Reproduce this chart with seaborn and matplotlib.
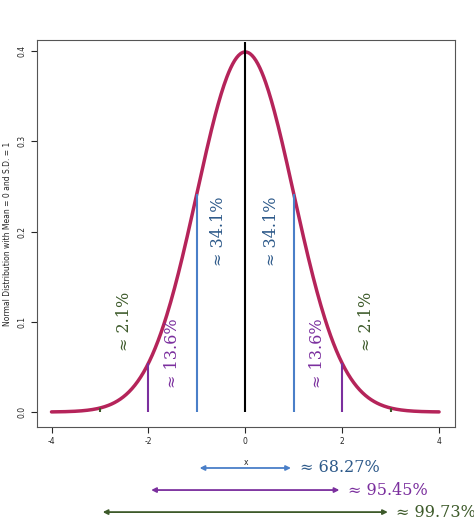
import numpy as np
import seaborn as sns
import matplotlib.pyplot as plt

sns.set_style("white")

# normal density, mean 0 and sd 1
x = np.linspace(-4, 4, 401)
density = np.exp(-x ** 2 / 2) / np.sqrt(2 * np.pi)

sd_marks = [1, 2, 3]
band_colors = ["#4a7fc8", "#7b2f9e", "#3d5a2a"]
band_labels = ["≈ 34.1%", "≈ 13.6%", "≈ 2.1%"]
band_label_x = [0.55, 1.5, 2.5]
band_label_y = [0.2, 0.065, 0.1]
range_labels = ["≈ 68.27%", "≈ 95.45%", "≈ 99.73%"]
range_label_colors = ["#2e5a8a", "#7b2f9e", "#3d5a2a"]

fig = plt.figure(figsize=(4.74, 5.22), dpi=100)
ax = fig.add_axes([0.078, 0.182, 0.882, 0.741])

sns.lineplot(x=x, y=density, ax=ax, color="#b5245a", lw=2.5)

ax.vlines(0, 0, 0.41, color="black", lw=1.5)
for k, c in zip(sd_marks, band_colors):
    h = np.exp(-k ** 2 / 2) / np.sqrt(2 * np.pi)
    ax.vlines([-k, k], 0, h, color=c, lw=1.5)

for lab, bx, by, c in zip(band_labels, band_label_x, band_label_y, range_label_colors):
    for sx in (-bx, bx):
        ax.text(sx, by, lab, rotation=90, ha="center", va="center", color=c,
                fontsize=11.5, family="DejaVu Serif")

ax.set_xlim(-4.3, 4.33)
ax.set_ylim(-0.0166, 0.412)
ax.set_xticks([-4, -2, 0, 2, 4])
ax.set_xticklabels(["-4", "-2", "0", "2", "4"])
ax.set_yticks([0, 0.1, 0.2, 0.3, 0.4])
ax.set_yticklabels(["0.0", "0.1", "0.2", "0.3", "0.4"], rotation=90, va="center")
ax.tick_params(axis="both", labelsize=5.5, length=4, bottom=True, left=True, width=0.8)
ax.set_xlabel("x", fontsize=5.5, labelpad=8)
ax.set_ylabel("Normal Distribution with Mean = 0 and S.D. = 1", fontsize=5.5)
for s in ax.spines.values():
    s.set_color("#555555")
    s.set_linewidth(0.8)

trans = ax.get_xaxis_transform()
for k, c, lab, lc, yy in zip(sd_marks, band_colors, range_labels, range_label_colors,
                             [-0.106, -0.163, -0.22]):
    ax.annotate("", xy=(k, yy), xytext=(-k, yy), xycoords=trans, textcoords=trans,
                arrowprops=dict(arrowstyle="<|-|>", color=c, lw=1.3, mutation_scale=7),
                annotation_clip=False)
    ax.text(k + 0.12, yy, lab, transform=trans, color=lc, fontsize=11.5,
            family="DejaVu Serif", va="center", ha="left", clip_on=False)

fig.savefig("out.png", dpi=100)
